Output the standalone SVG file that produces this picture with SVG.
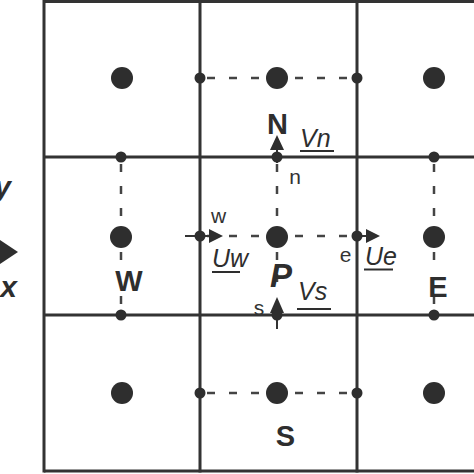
<svg xmlns="http://www.w3.org/2000/svg" width="474" height="474" viewBox="0 0 474 474">
<style>
.grid{stroke:#333;stroke-width:3;fill:none}
.dash{stroke:#444;stroke-width:2.5;stroke-dasharray:8 14;fill:none}
.big{fill:#2e2e2e}
.small{fill:#2e2e2e}
.ar{stroke:#333;stroke-width:2;fill:none}
.tri{fill:#2e2e2e}
.lbl{font-family:"Liberation Sans",Arial,sans-serif;font-weight:bold;font-size:29px;fill:#2e2e2e;text-anchor:middle}
.vel{font-family:"Liberation Sans",Arial,sans-serif;font-style:italic;font-size:25px;fill:#2e2e2e}
.face{font-family:"Liberation Sans",Arial,sans-serif;font-size:21px;fill:#333;text-anchor:middle}
.ax{font-family:"Liberation Sans",Arial,sans-serif;font-weight:bold;font-style:italic;font-size:30px;fill:#2e2e2e;text-anchor:end}
.ul{stroke:#2e2e2e;stroke-width:2}
</style>
<rect width="474" height="474" fill="#fff"/>
<g id="grid">
<line class="grid" x1="44" y1="1.5" x2="474" y2="1.5"/>
<line class="grid" x1="44" y1="157" x2="474" y2="157"/>
<line class="grid" x1="44" y1="315" x2="474" y2="315"/>
<line class="grid" x1="44" y1="471" x2="474" y2="471"/>
<line class="grid" x1="44" y1="0" x2="44" y2="472.5"/>
<line class="grid" x1="200" y1="0" x2="200" y2="472.5"/>
<line class="grid" x1="357" y1="0" x2="357" y2="472.5"/>
</g>
<g id="connectors">
<line class="dash" x1="207" y1="78" x2="357" y2="78"/>
<line class="dash" x1="207" y1="393" x2="357" y2="393"/>
<line class="dash" x1="207" y1="236" x2="357" y2="236"/>
<line class="dash" x1="121" y1="164" x2="121" y2="264"/>
<line class="dash" x1="121" y1="296" x2="121" y2="315"/>
<line class="dash" x1="277" y1="164" x2="277" y2="296"/>
<line class="dash" x1="434" y1="164" x2="434" y2="272"/>
<line class="dash" x1="434" y1="296" x2="434" y2="315"/>
</g>
<g id="arrows">
<line class="ar" x1="277" y1="163" x2="277" y2="148"/>
<polygon class="tri" points="270,150 277,135 284,150"/>
<line class="ar" x1="277" y1="329" x2="277" y2="311"/>
<polygon class="tri" points="270,313 277,297 284,313"/>
<line class="ar" x1="185" y1="236" x2="211" y2="236"/>
<polygon class="tri" points="209,229 223,236 209,243"/>
<line class="ar" x1="357" y1="236" x2="368" y2="236"/>
<polygon class="tri" points="366,229 380,236 366,243"/>
<polygon class="tri" points="-6,236 18,252 -6,268"/>
</g>
<g id="nodes">
<circle class="big" cx="122" cy="78" r="11"/>
<circle class="big" cx="277" cy="78" r="11"/>
<circle class="big" cx="434" cy="78" r="11"/>
<circle class="big" cx="121" cy="237" r="11"/>
<circle class="big" cx="277" cy="237" r="11"/>
<circle class="big" cx="434" cy="237" r="11"/>
<circle class="big" cx="122" cy="393" r="11"/>
<circle class="big" cx="277" cy="393" r="11"/>
<circle class="big" cx="434" cy="393" r="11"/>
</g>
<g id="faces">
<circle class="small" cx="200" cy="78" r="5.5"/>
<circle class="small" cx="357" cy="78" r="5.5"/>
<circle class="small" cx="121" cy="157" r="5.5"/>
<circle class="small" cx="277" cy="157" r="5.5"/>
<circle class="small" cx="434" cy="157" r="5.5"/>
<circle class="small" cx="200" cy="236" r="5.5"/>
<circle class="small" cx="357" cy="236" r="5.5"/>
<circle class="small" cx="121" cy="315" r="5.5"/>
<circle class="small" cx="277" cy="315" r="5.5"/>
<circle class="small" cx="434" cy="315" r="5.5"/>
<circle class="small" cx="200" cy="393" r="5.5"/>
<circle class="small" cx="357" cy="393" r="5.5"/>
</g>
<g id="labels">
<text class="lbl" x="277.5" y="134">N</text>
<text class="lbl" x="129" y="291">W</text>
<text class="lbl" x="438" y="297">E</text>
<text class="lbl" x="285.5" y="446">S</text>
<text x="270" y="287" style="font-family:'Liberation Sans',Arial,sans-serif;font-weight:bold;font-style:italic;font-size:33px;fill:#2e2e2e">P</text>
<text class="vel" x="300" y="147">Vn</text>
<line class="ul" x1="300" y1="151" x2="334" y2="151"/>
<text class="vel" x="298" y="300">Vs</text>
<line class="ul" x1="297" y1="309" x2="331" y2="309"/>
<text class="vel" x="212" y="267">Uw</text>
<line class="ul" x1="212" y1="272" x2="240" y2="272"/>
<text class="vel" x="365" y="265">Ue</text>
<line class="ul" x1="364" y1="269.5" x2="393" y2="269.5"/>
<text class="face" x="295" y="184">n</text>
<text class="face" x="218.5" y="223">w</text>
<text class="face" x="345.5" y="262">e</text>
<text class="face" x="259" y="315">s</text>
<text class="ax" x="11" y="197">y</text>
<text class="ax" x="17" y="297">x</text>
</g>
</svg>
